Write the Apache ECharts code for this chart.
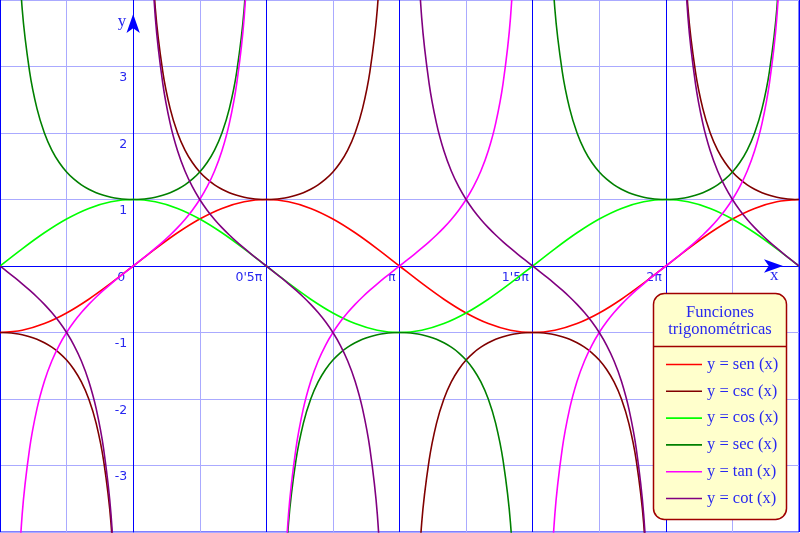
<!DOCTYPE html>
<html><head><meta charset="utf-8">
<script src="https://cdn.jsdelivr.net/npm/echarts@6/dist/echarts.min.js"></script>
<style>html,body{margin:0;padding:0;background:#fff}#c{width:800px;height:533px}</style>
</head><body><div id="c"></div><script>
// ---- tick labels ----
const xTickValues = [0, 90, 180, 270, 360];
const xTickNames = ['0', "0'5π", 'π', "1'5π", '2π'];
const yTickValues = [-3, -2, -1, 1, 2, 3];

// ---- legend / series names ----
const seriesNames = ['y = sen (x)', 'y = csc (x)', 'y = cos (x)', 'y = sec (x)', 'y = tan (x)', 'y = cot (x)'];
const seriesColors = ['#ff0000', '#800000', '#00ff00', '#008000', '#ff00ff', '#800080'];

// ---- x in degrees ----
const sinCosX = [-90,-75,-60,-45,-30,-15,0,15,30,45,60,75,90,105,120,135,150,165,180,195,210,225,240,255,270,285,300,315,330,345,360,375,390,405,420,435,450];
const sinY = [-1,-0.966,-0.866,-0.707,-0.5,-0.259,0,0.259,0.5,0.707,0.866,0.966,1,0.966,0.866,0.707,0.5,0.259,0,-0.259,-0.5,-0.707,-0.866,-0.966,-1,-0.966,-0.866,-0.707,-0.5,-0.259,0,0.259,0.5,0.707,0.866,0.966,1];
const cosY = [0,0.259,0.5,0.707,0.866,0.966,1,0.966,0.866,0.707,0.5,0.259,0,-0.259,-0.5,-0.707,-0.866,-0.966,-1,-0.966,-0.866,-0.707,-0.5,-0.259,0,0.259,0.5,0.707,0.866,0.966,1,0.966,0.866,0.707,0.5,0.259,0];

const tanX = [
  [-80,-75,-70,-65,-60,-55,-50,-45,-40,-35,-30,-25,-20,-15,-10,-5,0,5,10,15,20,25,30,35,40,45,50,55,60,65,70,75,80],
  [100,105,110,115,120,125,130,135,140,145,150,155,160,165,170,175,180,185,190,195,200,205,210,215,220,225,230,235,240,245,250,255,260],
  [280,285,290,295,300,305,310,315,320,325,330,335,340,345,350,355,360,365,370,375,380,385,390,395,400,405,410,415,420,425,430,435,440]
];
const tanY = [
  [-5.671,-3.732,-2.747,-2.145,-1.732,-1.428,-1.192,-1,-0.839,-0.7,-0.577,-0.466,-0.364,-0.268,-0.176,-0.087,0,0.087,0.176,0.268,0.364,0.466,0.577,0.7,0.839,1,1.192,1.428,1.732,2.145,2.747,3.732,5.671],
  [-5.671,-3.732,-2.747,-2.145,-1.732,-1.428,-1.192,-1,-0.839,-0.7,-0.577,-0.466,-0.364,-0.268,-0.176,-0.087,0,0.087,0.176,0.268,0.364,0.466,0.577,0.7,0.839,1,1.192,1.428,1.732,2.145,2.747,3.732,5.671],
  [-5.671,-3.732,-2.747,-2.145,-1.732,-1.428,-1.192,-1,-0.839,-0.7,-0.577,-0.466,-0.364,-0.268,-0.176,-0.087,0,0.087,0.176,0.268,0.364,0.466,0.577,0.7,0.839,1,1.192,1.428,1.732,2.145,2.747,3.732,5.671]
];
const secX = tanX;
const secY = [
  [5.759,3.864,2.924,2.366,2,1.743,1.556,1.414,1.305,1.221,1.155,1.103,1.064,1.035,1.015,1.004,1,1.004,1.015,1.035,1.064,1.103,1.155,1.221,1.305,1.414,1.556,1.743,2,2.366,2.924,3.864,5.759],
  [-5.759,-3.864,-2.924,-2.366,-2,-1.743,-1.556,-1.414,-1.305,-1.221,-1.155,-1.103,-1.064,-1.035,-1.015,-1.004,-1,-1.004,-1.015,-1.035,-1.064,-1.103,-1.155,-1.221,-1.305,-1.414,-1.556,-1.743,-2,-2.366,-2.924,-3.864,-5.759],
  [5.759,3.864,2.924,2.366,2,1.743,1.556,1.414,1.305,1.221,1.155,1.103,1.064,1.035,1.015,1.004,1,1.004,1.015,1.035,1.064,1.103,1.155,1.221,1.305,1.414,1.556,1.743,2,2.366,2.924,3.864,5.759]
];
const cotX = [
  [-90,-85,-80,-75,-70,-65,-60,-55,-50,-45,-40,-35,-30,-25,-20,-15,-10],
  [10,15,20,25,30,35,40,45,50,55,60,65,70,75,80,85,90,95,100,105,110,115,120,125,130,135,140,145,150,155,160,165,170],
  [190,195,200,205,210,215,220,225,230,235,240,245,250,255,260,265,270,275,280,285,290,295,300,305,310,315,320,325,330,335,340,345,350],
  [370,375,380,385,390,395,400,405,410,415,420,425,430,435,440,445,450]
];
const cotY = [
  [0,-0.087,-0.176,-0.268,-0.364,-0.466,-0.577,-0.7,-0.839,-1,-1.192,-1.428,-1.732,-2.145,-2.747,-3.732,-5.671],
  [5.671,3.732,2.747,2.145,1.732,1.428,1.192,1,0.839,0.7,0.577,0.466,0.364,0.268,0.176,0.087,0,-0.087,-0.176,-0.268,-0.364,-0.466,-0.577,-0.7,-0.839,-1,-1.192,-1.428,-1.732,-2.145,-2.747,-3.732,-5.671],
  [5.671,3.732,2.747,2.145,1.732,1.428,1.192,1,0.839,0.7,0.577,0.466,0.364,0.268,0.176,0.087,0,-0.087,-0.176,-0.268,-0.364,-0.466,-0.577,-0.7,-0.839,-1,-1.192,-1.428,-1.732,-2.145,-2.747,-3.732,-5.671],
  [5.671,3.732,2.747,2.145,1.732,1.428,1.192,1,0.839,0.7,0.577,0.466,0.364,0.268,0.176,0.087,0]
];
const cscX = cotX;
const cscY = [
  [-1,-1.004,-1.015,-1.035,-1.064,-1.103,-1.155,-1.221,-1.305,-1.414,-1.556,-1.743,-2,-2.366,-2.924,-3.864,-5.759],
  [5.759,3.864,2.924,2.366,2,1.743,1.556,1.414,1.305,1.221,1.155,1.103,1.064,1.035,1.015,1.004,1,1.004,1.015,1.035,1.064,1.103,1.155,1.221,1.305,1.414,1.556,1.743,2,2.366,2.924,3.864,5.759],
  [-5.759,-3.864,-2.924,-2.366,-2,-1.743,-1.556,-1.414,-1.305,-1.221,-1.155,-1.103,-1.064,-1.035,-1.015,-1.004,-1,-1.004,-1.015,-1.035,-1.064,-1.103,-1.155,-1.221,-1.305,-1.414,-1.556,-1.743,-2,-2.366,-2.924,-3.864,-5.759],
  [5.759,3.864,2.924,2.366,2,1.743,1.556,1.414,1.305,1.221,1.155,1.103,1.064,1.035,1.015,1.004,1]
];

// ---- styling ----
const BLUE = '#0000ff';
const MINOR = '#aaaaff';
const TXT = '#2828f0';
const SERIF = '"Liberation Serif", "Times New Roman", serif';
const SANS = '"DejaVu Sans", sans-serif';
const GRID_W = 799, GRID_H = 532;

function zip(xs, ys) { return xs.map((x, i) => [x, ys[i]]); }
const series = [];
function addSeries(idx, xsList, ysList) {
  xsList.forEach((xs, b) => {
    series.push({
      type: 'line', name: seriesNames[idx], data: zip(xs, ysList[b]),
      symbol: 'none', smooth: 0.33, clip: true,
      lineStyle: { color: seriesColors[idx], width: 1.6 },
      itemStyle: { color: seriesColors[idx] },
      z: 2
    });
  });
}
addSeries(0, [sinCosX], [sinY]);
addSeries(1, cscX, cscY);
addSeries(2, [sinCosX], [cosY]);
addSeries(3, secX, secY);
addSeries(4, tanX, tanY);
addSeries(5, cotX, cotY);

const chart = echarts.init(document.getElementById('c'));
chart.setOption({
  animation: false,
  backgroundColor: '#ffffff',
  grid: { left: 0, top: 0, width: GRID_W, height: GRID_H, show: true, borderColor: BLUE, borderWidth: 1, containLabel: false, outerBoundsMode: 'none' },
  xAxis: {
    type: 'value', min: -90, max: 450, interval: 90,
    position: 'bottom', offset: -GRID_H / 2,
    name: 'x', nameLocation: 'end', nameGap: -29,
    nameTextStyle: { color: TXT, fontFamily: SERIF, fontSize: 17, verticalAlign: 'top', padding: [1, 0, 0, 0] },
    axisLine: { onZero: false, lineStyle: { color: BLUE, width: 1 }, symbol: ['none', 'arrow'], symbolSize: [10, 19], symbolOffset: [0, -16] },
    axisTick: { show: false },
    splitLine: { show: true, lineStyle: { color: BLUE, width: 1 } },
    minorTick: { show: false, splitNumber: 2 },
    minorSplitLine: { show: true, lineStyle: { color: MINOR, width: 1 } },
    axisLabel: {
      margin: 5, align: 'right', padding: [0, 4, 0, 0],
      color: TXT, fontFamily: SANS, fontSize: 12.5,
      formatter: v => { const i = xTickValues.indexOf(v); if (i < 0) return ''; return v === 0 ? '{z|' + xTickNames[i] + '}' : xTickNames[i]; },
      rich: { z: { color: TXT, fontFamily: SANS, fontSize: 12.5, padding: [0, 4, 0, 0] } }
    }
  },
  yAxis: {
    type: 'value', min: -4, max: 4, interval: 1,
    position: 'left', offset: -GRID_W / 6,
    name: 'y', nameLocation: 'end', nameGap: -30,
    nameTextStyle: { color: TXT, fontFamily: SERIF, fontSize: 17, align: 'right', verticalAlign: 'bottom', padding: [0, 7, 0, 0] },
    axisLine: { onZero: false, lineStyle: { color: BLUE, width: 1 }, symbol: ['none', 'arrow'], symbolSize: [10, 19], symbolOffset: [0, -14] },
    axisTick: { show: false },
    splitLine: { show: true, lineStyle: { color: MINOR, width: 1 } },
    axisLabel: {
      margin: 6, verticalAlign: 'top', padding: [5, 0, 0, 0],
      color: TXT, fontFamily: SANS, fontSize: 12.5,
      formatter: v => yTickValues.indexOf(v) < 0 ? '' : String(v)
    }
  },
  legend: {
    orient: 'vertical', left: 666, top: 356, padding: 0,
    icon: 'rect', itemWidth: 36, itemHeight: 1.6, itemGap: 9.8, selectedMode: false,
    data: seriesNames, z: 20,
    textStyle: { color: TXT, fontFamily: SERIF, fontSize: 16.5, lineHeight: 17 }
  },
  graphic: [
    { type: 'rect', z: 10, shape: { x: 653.5, y: 293.5, width: 133, height: 226, r: 11 }, style: { fill: '#ffffcc', stroke: '#a00000', lineWidth: 1.5 } },
    { type: 'line', z: 11, shape: { x1: 654, y1: 346.5, x2: 786, y2: 346.5 }, style: { stroke: '#a00000', lineWidth: 1.5 } },
    { type: 'text', z: 11, x: 720, y: 304.5, style: { text: 'Funciones\ntrigonométricas', align: 'center', verticalAlign: 'top', fill: TXT, font: '16.5px ' + SERIF, lineHeight: 17 } }
  ],
  series: series
});
</script></body></html>
